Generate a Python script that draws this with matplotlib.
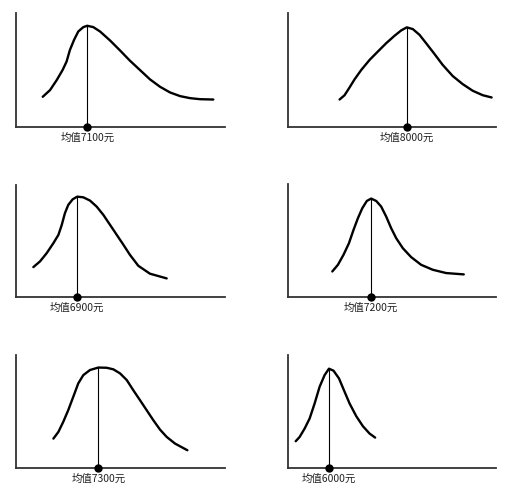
import matplotlib
matplotlib.use("Agg")
import numpy as np
import matplotlib.pyplot as plt

plt.rcParams['font.family'] = ['Noto Sans CJK SC', 'DejaVu Sans']

# mean income shown under each curve (yuan)
means = [7100, 8000, 6900, 7200, 7300, 6000]

# curve traces, axis units 0..100 along each axis
x1 = [12.8, 16.3, 19.5, 22.3, 24.2, 25.8, 27.8, 29.8, 32.2, 34.1, 37.0, 40.2, 45.0,
      49.8, 54.5, 59.3, 64.1, 68.9, 73.7, 78.5, 83.3, 88.0, 94.4]
y1 = [26.5, 32.4, 41.2, 50.0, 57.4, 67.6, 76.5, 83.8, 87.6, 88.8, 87.6, 83.8, 75.9,
      67.1, 58.2, 50.0, 41.8, 35.3, 30.3, 27.1, 25.3, 24.4, 24.1]

x2 = [24.8, 27.2, 29.6, 32.0, 35.2, 39.2, 43.2, 47.2, 51.2, 54.4, 57.1, 60.0, 63.2,
      66.4, 70.4, 74.4, 79.2, 84.0, 88.8, 93.6, 97.9]
y2 = [24.1, 27.9, 34.7, 41.8, 50.0, 58.8, 66.2, 73.5, 80.0, 84.7, 87.4, 85.9, 80.9,
      73.5, 64.1, 54.4, 44.7, 37.6, 31.8, 27.9, 25.9]

x3 = [8.3, 11.5, 14.7, 17.9, 20.3, 21.9, 23.4, 25.0, 27.1, 29.3, 32.2, 35.4, 38.6,
      41.8, 45.0, 48.2, 51.4, 54.5, 58.5, 64.1, 72.1]
y3 = [26.7, 31.8, 39.2, 48.1, 55.5, 64.4, 74.8, 82.2, 87.2, 89.6, 89.0, 86.1, 80.7,
      73.3, 64.4, 55.5, 46.6, 37.7, 27.9, 20.8, 16.6]

x4 = [21.3, 24.0, 26.7, 29.3, 31.5, 33.6, 35.7, 37.9, 40.0, 42.4, 44.8, 47.2, 49.6,
      52.0, 55.2, 59.2, 64.0, 69.6, 76.0, 84.5]
y4 = [22.6, 28.5, 37.4, 47.6, 59.4, 69.7, 78.5, 85.0, 87.1, 85.0, 80.0, 71.2, 60.9,
      52.1, 43.2, 35.3, 28.5, 24.1, 21.2, 20.0]

x5 = [17.9, 20.3, 22.6, 25.0, 27.4, 29.8, 32.2, 35.4, 39.4, 43.4, 46.6, 49.8, 53.0,
      56.1, 59.3, 62.5, 65.7, 68.9, 72.1, 76.1, 82.0]
y5 = [26.0, 32.0, 40.8, 51.2, 63.0, 74.9, 82.2, 86.7, 88.9, 88.7, 87.3, 83.7, 77.8,
      68.9, 60.1, 51.2, 42.3, 34.0, 27.5, 21.6, 15.7]

x6 = [3.7, 5.6, 8.0, 10.4, 12.8, 15.2, 17.6, 19.7, 21.9, 24.5, 27.2, 29.6, 32.8,
      36.0, 39.2, 41.9]
y6 = [23.7, 27.5, 34.9, 43.8, 57.1, 71.9, 82.2, 87.9, 86.1, 79.3, 67.5, 57.1, 45.9,
      37.0, 30.5, 26.9]

curves = [(x1, y1), (x2, y2), (x3, y3), (x4, y4), (x5, y5), (x6, y6)]

W, H = 512, 500
# axes boxes in pixels: left, right, top, bottom
boxes = [(16, 225, 13, 127), (288, 496, 13, 127),
         (16, 225, 185, 297), (288, 496, 184, 297),
         (16, 225, 355, 468), (288, 496, 355, 468)]

fig = plt.figure(figsize=(W / 100, H / 100), dpi=100)

for (xs, ys), m, (l, r, t, b) in zip(curves, means, boxes):
    ax = fig.add_axes([l / W, 1 - b / H, (r - l) / W, (b - t) / H])
    ax.set_xlim(0, 100)
    ax.set_ylim(0, 100)
    for s in ['top', 'right']:
        ax.spines[s].set_visible(False)
    for s in ['left', 'bottom']:
        ax.spines[s].set_linewidth(1.3)
        ax.spines[s].set_color('#333333')
    ax.set_xticks([])
    ax.set_yticks([])

    ax.plot(xs, ys, color='black', lw=1.7, solid_joinstyle='round',
            solid_capstyle='round')
    k = int(np.argmax(ys))
    px, py = xs[k], ys[k]
    ax.plot([px, px], [0, py], color='black', lw=0.8)
    ax.plot(px, 0, 'o', color='black', ms=5, clip_on=False, zorder=5)
    ax.annotate(f"均值{m}元", xy=(px, 0), xytext=(0, -8), textcoords='offset points',
                ha='center', va='center', fontsize=7.5, color='#222222',
                annotation_clip=False)

fig.savefig("out.png", dpi=100)
